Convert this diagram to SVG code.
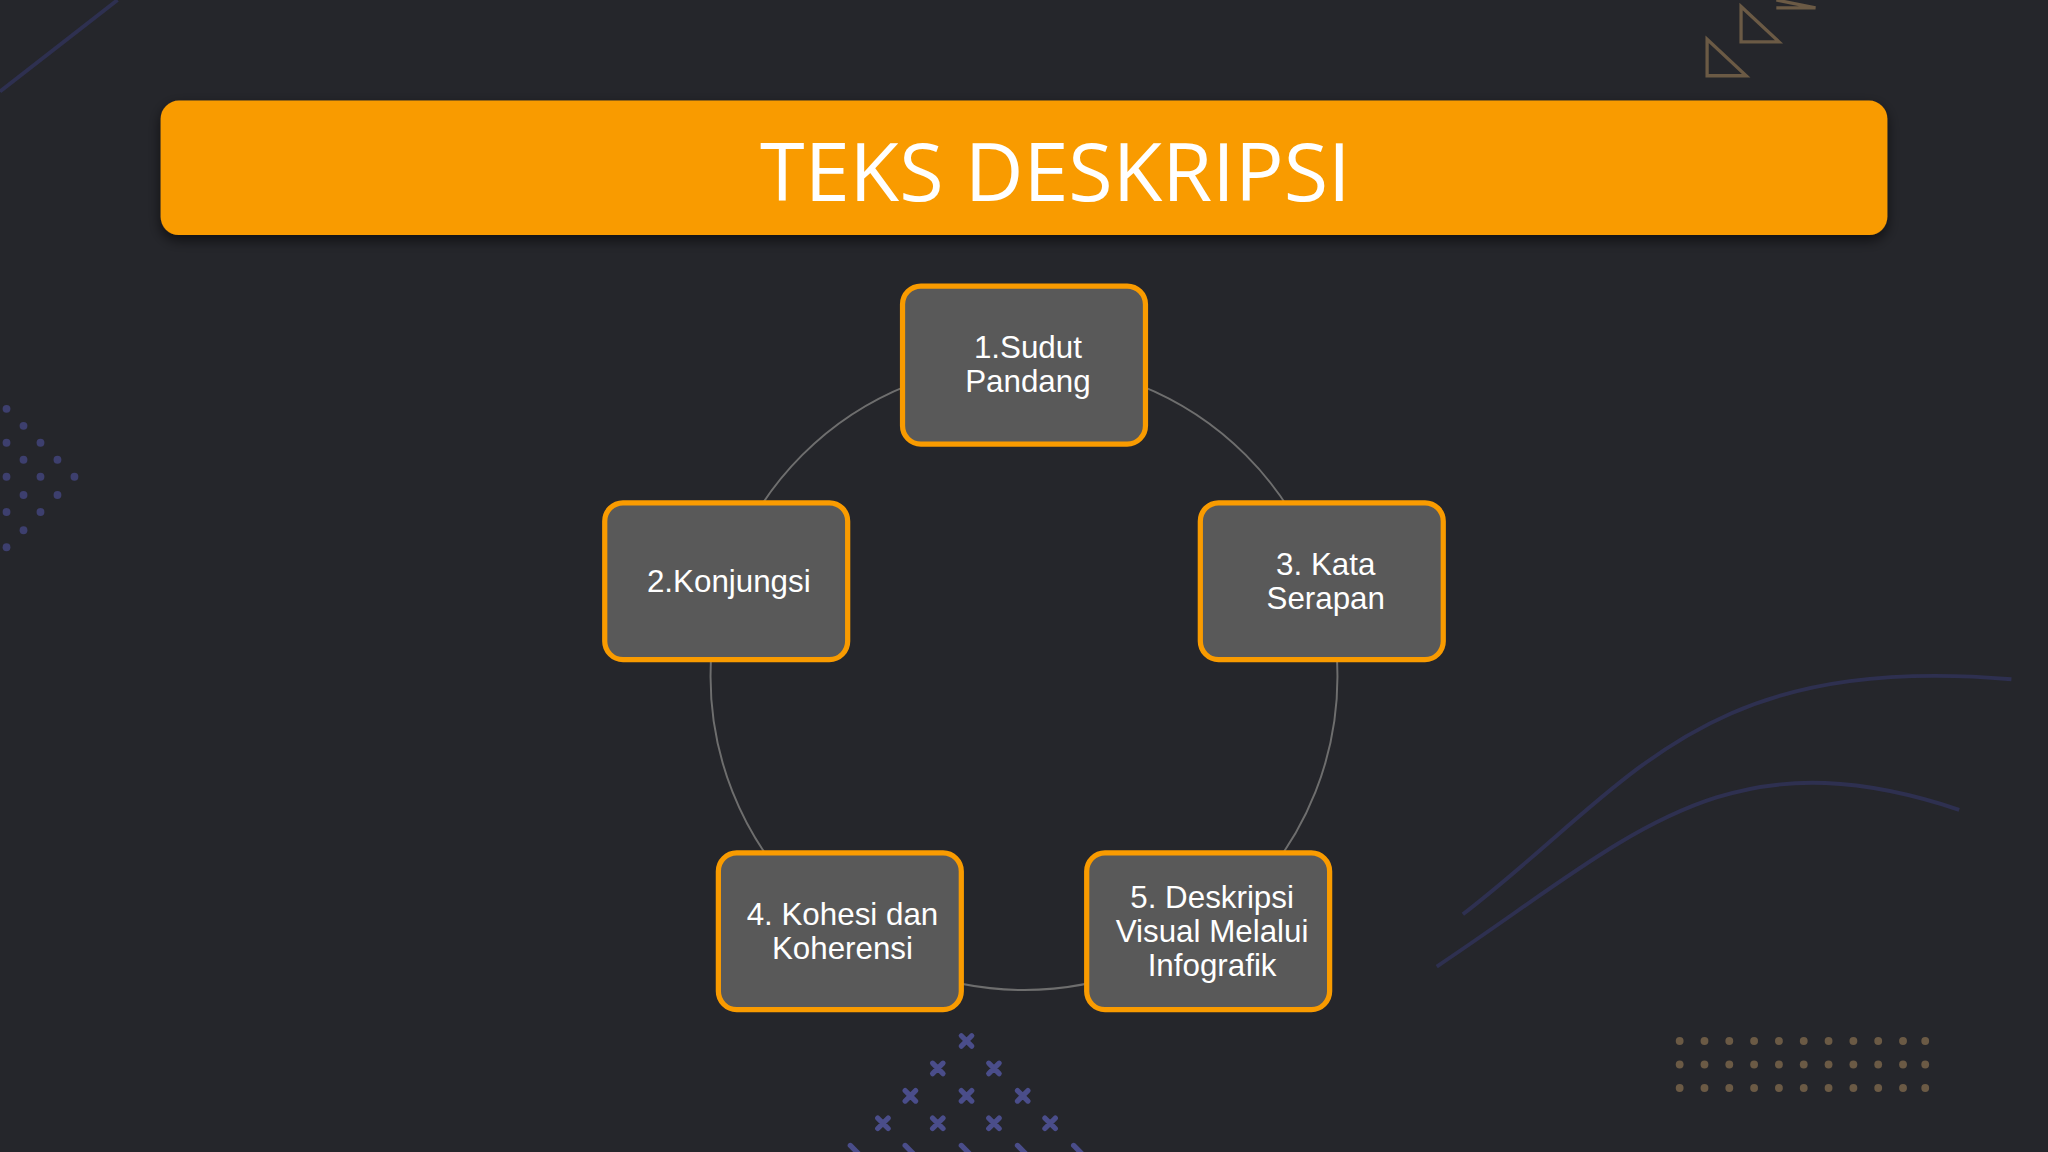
<svg xmlns="http://www.w3.org/2000/svg" width="2048" height="1152" viewBox="0 0 2048 1152">
<defs>
<style>
.n rect{fill:#595959;stroke:#F99B00;stroke-width:4}
.n text{fill:#fff;font-family:"Liberation Sans",Arial,sans-serif;font-size:24px;text-anchor:middle}
.d{fill:#6b5a45}
.x{stroke:#4a4d8a;stroke-width:4;stroke-linecap:round}
</style>
<filter id="sh" x="-5%" y="-20%" width="110%" height="150%"><feDropShadow dx="0" dy="4" stdDeviation="5" flood-color="#000" flood-opacity="0.6"/></filter>
</defs>
<rect width="2048" height="1152" fill="#25262b"/>
<g transform="scale(1.30612)">
<g id="decor">
<path d="M1307 30 L1337 58 L1307 58 Z M1333 5 L1362 32 L1333 32 Z M1360 0 L1390 6 L1360 6" fill="none" stroke="#6b5a45" stroke-width="2.5"/>
<g class="d">
<circle cx="1286" cy="797" r="3"/><circle cx="1305" cy="797" r="3"/><circle cx="1324" cy="797" r="3"/><circle cx="1343" cy="797" r="3"/><circle cx="1362" cy="797" r="3"/><circle cx="1381" cy="797" r="3"/><circle cx="1400" cy="797" r="3"/><circle cx="1419" cy="797" r="3"/><circle cx="1438" cy="797" r="3"/><circle cx="1457" cy="797" r="3"/><circle cx="1474" cy="797" r="3"/>
<circle cx="1286" cy="815" r="3"/><circle cx="1305" cy="815" r="3"/><circle cx="1324" cy="815" r="3"/><circle cx="1343" cy="815" r="3"/><circle cx="1362" cy="815" r="3"/><circle cx="1381" cy="815" r="3"/><circle cx="1400" cy="815" r="3"/><circle cx="1419" cy="815" r="3"/><circle cx="1438" cy="815" r="3"/><circle cx="1457" cy="815" r="3"/><circle cx="1474" cy="815" r="3"/>
<circle cx="1286" cy="833" r="3"/><circle cx="1305" cy="833" r="3"/><circle cx="1324" cy="833" r="3"/><circle cx="1343" cy="833" r="3"/><circle cx="1362" cy="833" r="3"/><circle cx="1381" cy="833" r="3"/><circle cx="1400" cy="833" r="3"/><circle cx="1419" cy="833" r="3"/><circle cx="1438" cy="833" r="3"/><circle cx="1457" cy="833" r="3"/><circle cx="1474" cy="833" r="3"/>
</g>
<g fill="#3d3f6e">
<circle cx="5" cy="313" r="3"/><circle cx="18" cy="326" r="3"/><circle cx="5" cy="339" r="3"/><circle cx="31" cy="339" r="3"/><circle cx="18" cy="352" r="3"/><circle cx="44" cy="352" r="3"/><circle cx="5" cy="365" r="3"/><circle cx="31" cy="365" r="3"/><circle cx="57" cy="365" r="3"/><circle cx="18" cy="379" r="3"/><circle cx="44" cy="379" r="3"/><circle cx="5" cy="392" r="3"/><circle cx="31" cy="392" r="3"/><circle cx="18" cy="406" r="3"/><circle cx="5" cy="419" r="3"/>
</g>
<g class="x">
<path d="M736 793l8 8m0-8l-8 8"/>
<path d="M714 814l8 8m0-8l-8 8M757 814l8 8m0-8l-8 8"/>
<path d="M693 835l8 8m0-8l-8 8M736 835l8 8m0-8l-8 8M779 835l8 8m0-8l-8 8"/>
<path d="M672 856l8 8m0-8l-8 8M714 856l8 8m0-8l-8 8M757 856l8 8m0-8l-8 8M800 856l8 8m0-8l-8 8"/>
<path d="M651 877l8 8M693 877l8 8M736 877l8 8M779 877l8 8M822 877l8 8"/>
</g>
<path d="M1120 700 C1250 600 1300 500 1540 520 M1100 740 C1250 640 1320 560 1500 620" fill="none" stroke="#2e3050" stroke-width="3"/>
<path d="M0 70 L90 0" stroke="#2e3050" stroke-width="3"/>
</g>
<g id="title">
<rect x="123" y="77" width="1322" height="103" rx="14" fill="#F99B00" filter="url(#sh)"/>
<text x="808" y="154" fill="#fff" font-family="'Open Sans','Noto Sans',sans-serif" font-size="62" text-anchor="middle">TEKS DESKRIPSI</text>
</g>
<g id="connectors">
<circle cx="784" cy="518" r="240" fill="none" stroke="#6e6e6e" stroke-width="1.5"/>
</g>
<g id="n1" class="n"><rect x="691" y="219" width="186" height="121" rx="14"/><text x="787" y="274">1.Sudut</text><text x="787" y="300">Pandang</text></g>
<g id="n2" class="n"><rect x="463" y="385" width="186" height="120" rx="14"/><text x="558" y="453">2.Konjungsi</text></g>
<g id="n3" class="n"><rect x="919" y="385" width="186" height="120" rx="14"/><text x="1015" y="440">3. Kata</text><text x="1015" y="466">Serapan</text></g>
<g id="n4" class="n"><rect x="550" y="653" width="186" height="120" rx="14"/><text x="645" y="708">4. Kohesi dan</text><text x="645" y="734">Koherensi</text></g>
<g id="n5" class="n"><rect x="832" y="653" width="186" height="120" rx="14"/><text x="928" y="695">5. Deskripsi</text><text x="928" y="721">Visual Melalui</text><text x="928" y="747">Infografik</text></g>
</g>
</svg>
